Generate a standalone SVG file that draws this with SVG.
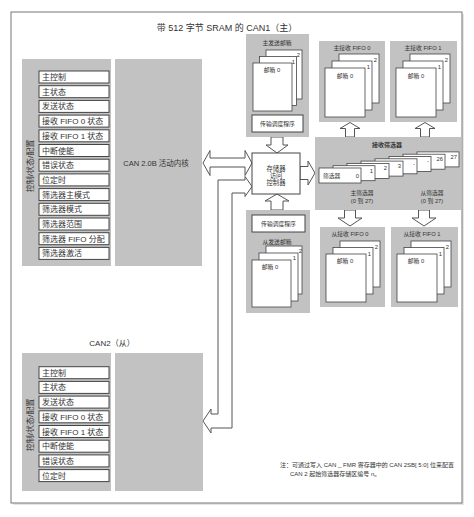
<svg xmlns="http://www.w3.org/2000/svg" width="474" height="517" viewBox="0 0 474 517">
<style>
text{font-family:"Liberation Sans","Noto Sans CJK SC",sans-serif;fill:#333}
.frame{fill:#fff;stroke:#777;stroke-width:1}
.panel{fill:#c2c2c2;stroke:none}
.box{fill:#fff;stroke:#444;stroke-width:1}
.page{fill:#fff;stroke:#444;stroke-width:0.8}
.arrow{fill:#fff;stroke:#555;stroke-width:1;stroke-linejoin:miter}
.reg{font-size:8px}
.sm{font-size:5.8px}
.mid{text-anchor:middle}
.end{text-anchor:end}
</style>
<rect x="0" y="0" width="474" height="517" fill="#fff"/>
<rect x="13" y="14" width="451" height="491" fill="#e6e6e6"/>
<rect class="frame" x="11" y="12" width="451" height="491"/>
<text x="227" y="31" class="mid" font-size="9">带 512 字节 SRAM 的 CAN1（主）</text>

<g id="connectors">
<polygon class="arrow" points="203,163 210,150.5 210,158 245,158 245,150.5 252,163 245,175.5 245,167 210,167 210,175.5"/>
<polygon class="arrow" points="252,186.5 245,176.5 245,180 218,180 218,414 211,414 211,409 203,421 211,433 211,428 232,428 232,193 245,193 245,196.5"/>
<polygon class="arrow" points="271,137 283,137 283,145 288,145 277,153 266,145 271,145"/>
<polygon class="arrow" points="271,210 283,210 283,201 289,201 277,194 265,201 271,201"/>
<polygon class="arrow" points="300,166.5 308,166.5 308,161 315,173 308,185 308,179.5 300,179.5"/>
<polygon class="arrow" points="345.5,137 354.5,137 354.5,128.5 360,128.5 350,122.5 340,128.5 345.5,128.5"/>
<polygon class="arrow" points="420.5,137 429.5,137 429.5,128.5 435,128.5 425,122.5 415,128.5 420.5,128.5"/>
<polygon class="arrow" points="344.5,210 355.5,210 355.5,218 362,218 350,226 338,218 344.5,218"/>
<polygon class="arrow" points="418.5,210 429.5,210 429.5,218 436,218 424,226 412,218 418.5,218"/>
</g>

<g id="can1-control">
<rect class="panel" x="22" y="59" width="89" height="207"/>
<text transform="translate(30,166) rotate(-90)" class="mid" font-size="8" dominant-baseline="central">控制/状态/配置</text>
<g class="reg">
<rect class="box" x="39" y="71" width="70" height="12"/><text x="42" y="80">主控制</text>
<rect class="box" x="39" y="85.7" width="70" height="12"/><text x="42" y="94.7">主状态</text>
<rect class="box" x="39" y="100.4" width="70" height="12"/><text x="42" y="109.4">发送状态</text>
<rect class="box" x="39" y="115.1" width="70" height="12"/><text x="42" y="124.1">接收 FIFO 0 状态</text>
<rect class="box" x="39" y="129.8" width="70" height="12"/><text x="42" y="138.8">接收 FIFO 1 状态</text>
<rect class="box" x="39" y="144.5" width="70" height="12"/><text x="42" y="153.5">中断使能</text>
<rect class="box" x="39" y="159.2" width="70" height="12"/><text x="42" y="168.2">错误状态</text>
<rect class="box" x="39" y="173.9" width="70" height="12"/><text x="42" y="182.9">位定时</text>
<rect class="box" x="39" y="188.6" width="70" height="12"/><text x="42" y="197.6">筛选器主模式</text>
<rect class="box" x="39" y="203.3" width="70" height="12"/><text x="42" y="212.3">筛选器模式</text>
<rect class="box" x="39" y="218" width="70" height="12"/><text x="42" y="227">筛选器范围</text>
<rect class="box" x="39" y="232.7" width="70" height="12"/><text x="42" y="241.7">筛选器 FIFO 分配</text>
<rect class="box" x="39" y="247.4" width="70" height="12"/><text x="42" y="256.4">筛选器激活</text>
</g>
</g>

<g id="can1-core">
<rect class="panel" x="115" y="59" width="87" height="207"/>
<text x="156" y="166" class="mid" font-size="7.5">CAN 2.0B 活动内核</text>
</g>

<text x="112" y="346" class="mid" font-size="8">CAN2（从）</text>
<g id="can2-control">
<rect class="panel" x="22" y="353" width="89" height="138"/>
<text transform="translate(30,425) rotate(-90)" class="mid" font-size="8" dominant-baseline="central">控制/状态/配置</text>
<g class="reg">
<rect class="box" x="39" y="366.7" width="70" height="12"/><text x="42" y="375.7">主控制</text>
<rect class="box" x="39" y="381.4" width="70" height="12"/><text x="42" y="390.4">主状态</text>
<rect class="box" x="39" y="396.1" width="70" height="12"/><text x="42" y="405.1">发送状态</text>
<rect class="box" x="39" y="410.8" width="70" height="12"/><text x="42" y="419.8">接收 FIFO 0 状态</text>
<rect class="box" x="39" y="425.5" width="70" height="12"/><text x="42" y="434.5">接收 FIFO 1 状态</text>
<rect class="box" x="39" y="440.2" width="70" height="12"/><text x="42" y="449.2">中断使能</text>
<rect class="box" x="39" y="454.9" width="70" height="12"/><text x="42" y="463.9">错误状态</text>
<rect class="box" x="39" y="469.6" width="70" height="12"/><text x="42" y="478.6">位定时</text>
</g>
</g>
<g id="can2-core">
<rect class="panel" x="115" y="353" width="88" height="138"/>
</g>

<g id="master-tx-mailbox">
<rect class="panel" x="246" y="34" width="63" height="103"/>
<text x="277" y="45" class="mid sm">主发送邮箱</text>
<rect class="page" x="266" y="50" width="36" height="49"/>
<rect class="page" x="259.5" y="56.5" width="37" height="49"/>
<rect class="page" x="253" y="63" width="39" height="48"/>
<text x="300" y="57" class="end sm">2</text>
<text x="295" y="64" class="end sm">1</text>
<text x="272" y="72" class="mid sm">邮箱 0</text>
<rect class="box" x="252" y="115" width="51" height="17"/>
<text x="277.5" y="126" class="mid sm">传输调度程序</text>
</g>

<g id="memory-controller">
<rect class="box" x="252" y="153" width="48" height="41"/>
<text x="276" y="171" class="mid" font-size="6.3">存储器</text>
<text x="276" y="178" class="mid" font-size="6.3">访问</text>
<text x="276" y="185" class="mid" font-size="6.3">控制器</text>
</g>

<g id="slave-tx-mailbox">
<rect class="panel" x="246" y="210" width="64" height="103"/>
<rect class="box" x="252" y="215" width="53" height="17"/>
<text x="278.5" y="226" class="mid sm">传输调度程序</text>
<text x="277" y="244" class="mid sm">从发送邮箱</text>
<rect class="page" x="266" y="246" width="36" height="48"/>
<rect class="page" x="259" y="253" width="39" height="48"/>
<rect class="page" x="252" y="260" width="39" height="47"/>
<text x="302" y="253" class="end sm">2</text>
<text x="296" y="260" class="end sm">1</text>
<text x="270" y="269" class="mid sm">邮箱 0</text>
</g>

<g id="master-fifo0">
<rect class="panel" x="319" y="41" width="66" height="81"/>
<text x="352" y="50" class="mid sm">主接收 FIFO 0</text>
<rect class="page" x="339" y="54" width="40" height="49"/>
<rect class="page" x="332" y="61" width="40" height="49"/>
<rect class="page" x="325" y="68" width="40" height="49"/>
<text x="377" y="62" class="end sm">2</text>
<text x="370" y="69" class="end sm">1</text>
<text x="345" y="78" class="mid sm">邮箱 0</text>
</g>

<g id="master-fifo1">
<rect class="panel" x="390" y="41" width="67" height="81"/>
<text x="423" y="50" class="mid sm">主接收 FIFO 1</text>
<rect class="page" x="410" y="54" width="40" height="49"/>
<rect class="page" x="403" y="61" width="40" height="49"/>
<rect class="page" x="396" y="68" width="40" height="49"/>
<text x="448" y="62" class="end sm">2</text>
<text x="441" y="69" class="end sm">1</text>
<text x="416" y="78" class="mid sm">邮箱 0</text>
</g>

<g id="receive-filters">
<rect class="panel" x="315" y="137" width="146" height="73"/>
<text x="387" y="147" class="mid" font-size="6" font-weight="bold" fill="#111">接收筛选器</text>
<rect class="page" x="417" y="151.9" width="42" height="15"/>
<rect class="page" x="403" y="154.2" width="42" height="15"/>
<rect class="page" x="389" y="156.5" width="42" height="15"/>
<rect class="page" x="375" y="158.8" width="42" height="15"/>
<rect class="page" x="361" y="161.1" width="42" height="15"/>
<rect class="page" x="347" y="163.4" width="42" height="15"/>
<rect class="page" x="333" y="165.7" width="42" height="15"/>
<rect class="page" x="319" y="168" width="42" height="15"/>
<g class="sm end">
<text x="457" y="158.5">27</text>
<text x="443" y="161">26</text>
<text x="429" y="163">-</text>
<text x="415" y="165.5">-</text>
<text x="401" y="168">3</text>
<text x="387" y="170">2</text>
<text x="373" y="172.5">1</text>
<text x="359" y="178">0</text>
</g>
<text x="323" y="178" class="sm">筛选器</text>
<text x="362" y="195" class="mid sm">主筛选器</text>
<text x="362" y="203" class="mid sm">(0 到 27)</text>
<text x="432" y="195" class="mid sm">从筛选器</text>
<text x="432" y="203" class="mid sm">(0 到 27)</text>
</g>

<g id="slave-fifo0">
<rect class="panel" x="320" y="227" width="65" height="80"/>
<text x="350" y="236" class="mid sm">从接收 FIFO 0</text>
<rect class="page" x="340" y="241" width="40" height="46"/>
<rect class="page" x="333" y="247.5" width="40" height="46.5"/>
<rect class="page" x="326" y="254" width="40" height="48"/>
<text x="378" y="249" class="end sm">2</text>
<text x="371" y="256" class="end sm">1</text>
<text x="345" y="263" class="mid sm">邮箱 0</text>
</g>

<g id="slave-fifo1">
<rect class="panel" x="391" y="227" width="67" height="80"/>
<text x="422" y="236" class="mid sm">从接收 FIFO 1</text>
<rect class="page" x="411" y="241" width="40" height="46"/>
<rect class="page" x="404" y="247.5" width="40" height="46.5"/>
<rect class="page" x="397" y="254" width="40" height="48"/>
<text x="449" y="249" class="end sm">2</text>
<text x="442" y="256" class="end sm">1</text>
<text x="416" y="263" class="mid sm">邮箱 0</text>
</g>

<text x="280" y="467" font-size="6">注：可通过写入 CAN _ FMR 寄存器中的 CAN 2SB[ 5:0] 位来配置</text>
<text x="290" y="476" font-size="6">CAN 2 起始筛选器存储区编号 n。</text>
</svg>
